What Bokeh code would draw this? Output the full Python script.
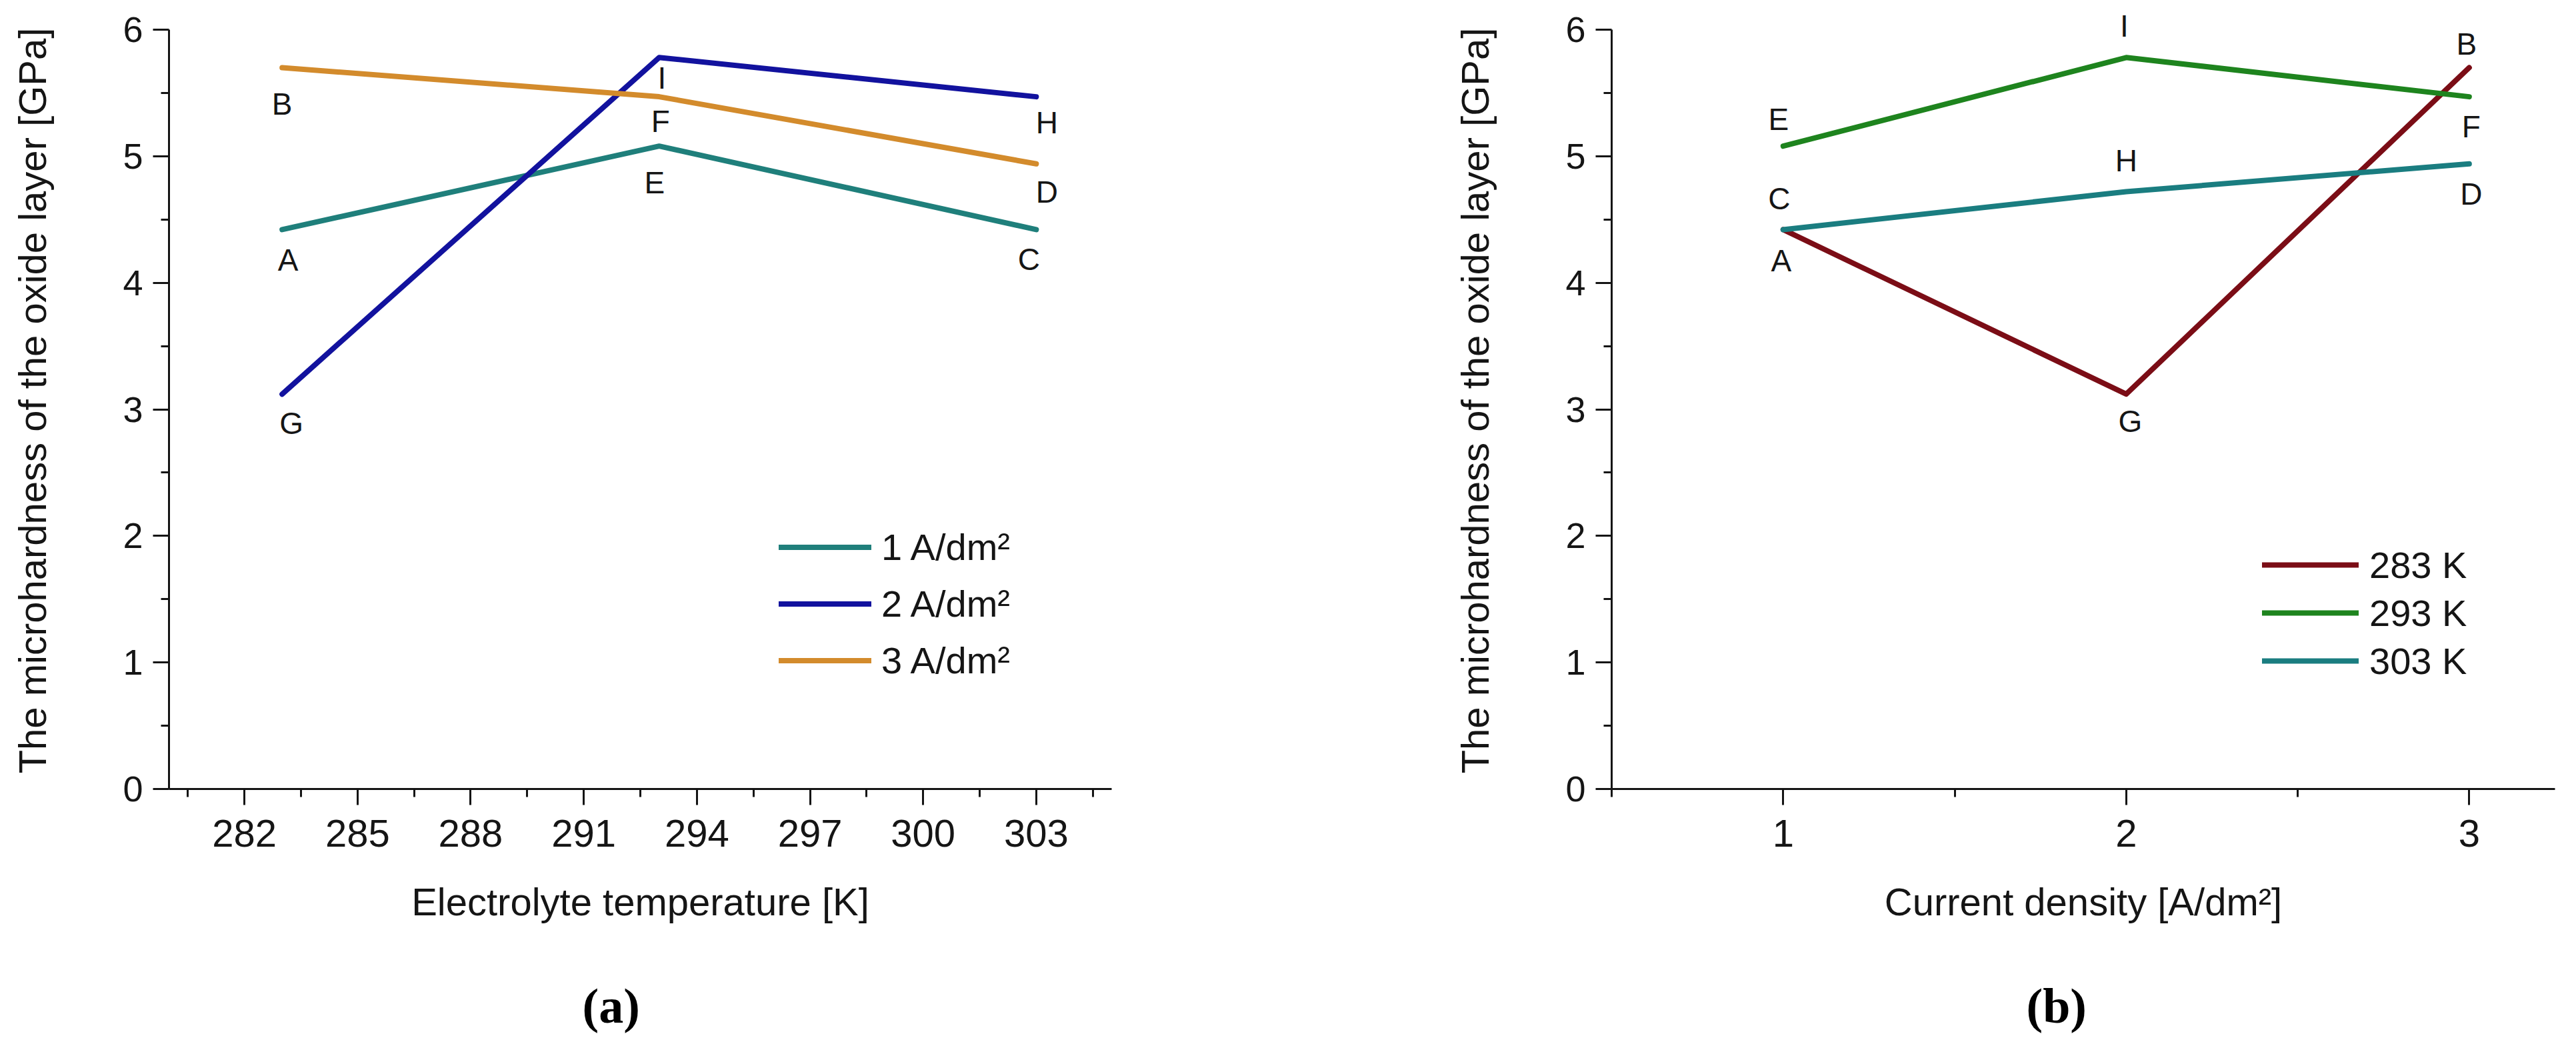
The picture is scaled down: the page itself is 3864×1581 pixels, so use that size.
from bokeh.plotting import figure
from bokeh.models import (Range1d, FixedTicker, Legend, LegendItem, ColumnDataSource, Title)
from bokeh.layouts import row
from bokeh.embed import file_html
from bokeh.resources import INLINE
from bokeh.core.properties import value

# ---------------- data ----------------
temps = [283, 293, 303]                 # electrolyte temperature [K]
densities = [1, 2, 3]                   # current density [A/dm2]

names_a = ["1 A/dm²", "2 A/dm²", "3 A/dm²"]
hard_1A = [4.42, 5.08, 4.42]
hard_2A = [3.12, 5.78, 5.47]
hard_3A = [5.70, 5.47, 4.94]
letters_1A = ["A", "E", "C"]
letters_2A = ["G", "I", "H"]
letters_3A = ["B", "F", "D"]

names_b = ["283 K", "293 K", "303 K"]
hard_283 = [4.42, 3.12, 5.70]
hard_293 = [5.08, 5.78, 5.47]
hard_303 = [4.42, 4.72, 4.94]
letters_283 = ["A", "G", "B"]
letters_293 = ["E", "I", "F"]
letters_303 = ["C", "H", "D"]

x_ticks_a = [282, 285, 288, 291, 294, 297, 300, 303]
x_minor_a = [280.5, 283.5, 286.5, 289.5, 292.5, 295.5, 298.5, 301.5, 304.5]
x_ticks_b = [1, 2, 3]
x_minor_b = [0.5, 1.5, 2.5]
y_ticks = [0, 1, 2, 3, 4, 5, 6]
y_minor = [0.5, 1.5, 2.5, 3.5, 4.5, 5.5]
y_axis_min, y_axis_max = 0, 6

y_title = "The microhardness of the oxide layer [GPa]"
x_title_a = "Electrolyte temperature [K]"
x_title_b = "Current density [A/dm²]"
caption_a = "(a)"
caption_b = "(b)"

# ---------------- styles (placement of point letters in px, + = right / down) ----------------
colors_a = ["#1F7F7B", "#12129E", "#D38B2C"]
colors_b = ["#7B0D16", "#1E841E", "#1A7D80"]
xoff_a = [[9, -7, -11], [14, 4, 16], [0, 2, 16]]
yoff_a = [[46, 55, 45], [44, 31, 39], [55, 37, 42]]
xoff_b = [[-3, 6, -4], [-7, -3, 3], [-6, 0, 3]]
yoff_b = [[47, 41, -35], [-40, -47, 45], [-46, -46, 45]]

FONT = "Liberation Sans"
INK = "#151515"
AXIS_PX = 1139      # pixel height of the 0..6 axis
TOP_PAD = 26        # extra frame room above the axis end (for letters)


def make_panel(xs, series, names, letters, colors, xoffs, yoffs, xr, xticks, xminor,
               xtitle, caption, cap_offset, bl, br, fw, leg_loc, glyph_w, glyph_h, leg_standoff):
    ytop = y_axis_max * (AXIS_PX + TOP_PAD) / AXIS_PX
    p = figure(frame_width=fw, frame_height=AXIS_PX + TOP_PAD,
               min_border_left=bl, min_border_right=br, min_border_top=44 - TOP_PAD,
               min_border_bottom=382,
               x_range=Range1d(*xr), y_range=Range1d(y_axis_min, ytop),
               output_backend="svg", toolbar_location=None)
    p.grid.visible = False
    p.outline_line_color = None
    p.background_fill_color = "white"
    p.border_fill_color = "white"

    items = []
    for ys, nm, lt, col, xo, yo in zip(series, names, letters, colors, xoffs, yoffs):
        r = p.line(xs, ys, line_color=col, line_width=8, line_cap="round", line_join="round")
        items.append(LegendItem(label=nm, renderers=[r]))
        src = ColumnDataSource(dict(x=xs, y=ys, t=lt, xo=xo, yo=yo))
        p.text(x="x", y="y", text="t", x_offset="xo", y_offset="yo", source=src,
               text_font=value(FONT), text_font_size="46px", text_color=INK,
               text_align="center", text_baseline="middle")

    leg = Legend(items=items, location=leg_loc)
    leg.glyph_width = glyph_w
    leg.glyph_height = glyph_h
    leg.spacing = 0
    leg.padding = 0
    leg.margin = 0
    leg.label_standoff = leg_standoff
    leg.label_text_font = FONT
    leg.label_text_font_size = "56px"
    leg.label_text_color = INK
    leg.background_fill_alpha = 0
    leg.border_line_alpha = 0
    p.add_layout(leg)

    p.xaxis.ticker = FixedTicker(ticks=xticks, minor_ticks=xminor)
    p.yaxis.ticker = FixedTicker(ticks=y_ticks, minor_ticks=y_minor)
    p.yaxis.bounds = (y_axis_min, y_axis_max)
    for ax in (p.xaxis, p.yaxis):
        ax.axis_line_width = 3
        ax.axis_line_color = INK
        ax.major_tick_line_width = 3
        ax.minor_tick_line_width = 3
        ax.major_tick_line_color = INK
        ax.minor_tick_line_color = INK
        ax.major_tick_in = 0
        ax.minor_tick_in = 0
        ax.major_tick_out = 24
        ax.minor_tick_out = 12
        ax.major_label_text_font = FONT
        ax.major_label_text_color = INK
        ax.axis_label_text_font = FONT
        ax.axis_label_text_font_size = "58px"
        ax.axis_label_text_font_style = "normal"
        ax.axis_label_text_color = INK
    p.xaxis.major_label_text_font_size = "58px"
    p.yaxis.major_label_text_font_size = "54px"
    p.xaxis.major_label_standoff = 22
    p.yaxis.major_label_standoff = 15
    p.xaxis.axis_label = xtitle
    p.xaxis.axis_label_standoff = 47
    p.yaxis.axis_label = y_title
    p.yaxis.axis_label_standoff = 100

    cap = Title(text=caption, align="left", offset=cap_offset,
                text_font="Liberation Serif", text_font_size="74px",
                text_font_style="bold", text_color="#000000", standoff=156)
    p.add_layout(cap, "below")
    return p


pa = make_panel(temps, [hard_1A, hard_2A, hard_3A], names_a,
                [letters_1A, letters_2A, letters_3A], colors_a, xoff_a, yoff_a,
                (280, 305), x_ticks_a, x_minor_a, x_title_a, caption_a, 620,
                253, 425, 1414, (915, 150), 139, 85, 15)
pb = make_panel(densities, [hard_283, hard_293, hard_303], names_b,
                [letters_283, letters_293, letters_303], colors_b, xoff_b, yoff_b,
                (0.5, 3.25), x_ticks_b, x_minor_b, x_title_b, caption_b, 622,
                325, 10, 1415, (976, 156), 145, 72, 16)

layout = row(pa, pb)
open("out.html", "w").write(file_html(layout, INLINE))
